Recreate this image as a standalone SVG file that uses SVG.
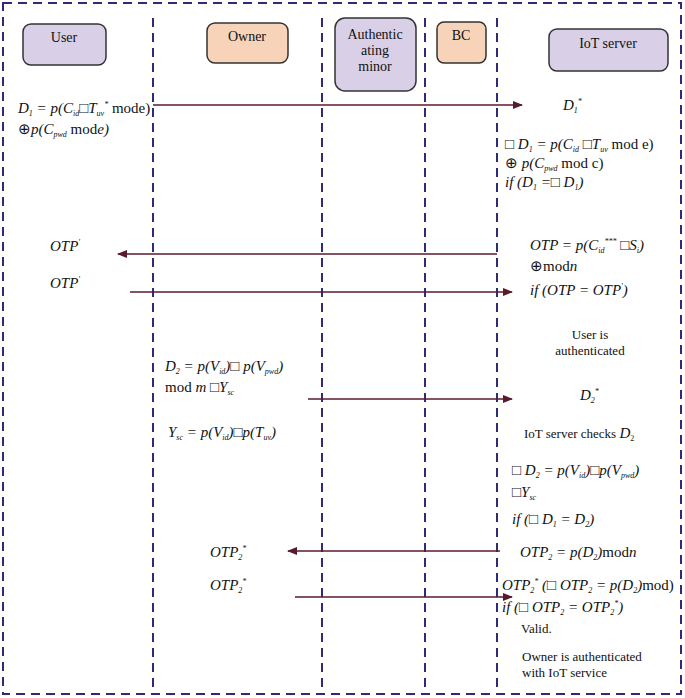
<svg xmlns="http://www.w3.org/2000/svg" width="685" height="698" viewBox="0 0 685 698">
<style>
.lane{stroke:#2e2c78;stroke-width:2;stroke-dasharray:9,6;fill:none}
.box{stroke:#333;stroke-width:1.5}
.p{fill:#d9d0e8}.o{fill:#f6d3b9}
.hd{font-family:"Liberation Serif",serif;font-size:14px;fill:#111;text-anchor:middle}
.m{font-family:"Liberation Serif",serif;font-size:15px;fill:#111;font-style:italic}
.t{font-family:"Liberation Serif",serif;font-size:13px;fill:#111}
.s{font-size:8px}
.a{stroke:#5b1a2c;stroke-width:1.6;fill:none;marker-end:url(#ah)}
</style>
<defs><marker id="ah" markerWidth="10" markerHeight="8" refX="9" refY="4" orient="auto" markerUnits="userSpaceOnUse"><path d="M0,0 L10,4 L0,8 Z" fill="#5b1a2c"/></marker></defs>
<rect width="685" height="698" fill="#fff"/>
<rect x="3" y="3" width="678" height="691" class="lane"/>
<g id="lanes">
<line x1="153" y1="18" x2="153" y2="694" class="lane"/>
<line x1="322" y1="18" x2="322" y2="694" class="lane"/>
<line x1="425" y1="18" x2="425" y2="694" class="lane"/>
<line x1="497" y1="18" x2="497" y2="694" class="lane"/>
</g>
<g id="user"><rect x="23" y="24" width="83" height="41" rx="8" class="box p"/><text x="64" y="42" class="hd">User</text></g>
<g id="owner"><rect x="207" y="23" width="81" height="40" rx="8" class="box o"/><text x="247" y="41" class="hd">Owner</text></g>
<g id="minor"><rect x="335" y="18" width="81" height="73" rx="10" class="box p"/><text x="375" y="39" class="hd">Authentic</text><text x="375" y="55" class="hd">ating</text><text x="375" y="71" class="hd">minor</text></g>
<g id="bc"><rect x="437" y="22" width="49" height="41" rx="7" class="box o"/><text x="461" y="40" class="hd">BC</text></g>
<g id="iot"><rect x="549" y="29" width="119" height="42" rx="8" class="box p"/><text x="608" y="48" class="hd">IoT server</text></g>
<g id="connectors">
<line x1="153" y1="105" x2="522" y2="105" class="a"/>
<line x1="497" y1="254" x2="118" y2="254" class="a"/>
<line x1="130" y1="292" x2="512" y2="292" class="a"/>
<line x1="308" y1="399" x2="512" y2="399" class="a"/>
<line x1="500" y1="551" x2="288" y2="551" class="a"/>
<line x1="295" y1="597" x2="512" y2="597" class="a"/>
</g>
<g id="labels">
<text x="18" y="113" class="m">D<tspan class="s" dy="3">1</tspan><tspan dy="-3"> = p(C</tspan><tspan class="s" dy="3">id</tspan><tspan dy="-3">□T</tspan><tspan class="s" dy="3">uv</tspan><tspan class="s" dy="-9">*</tspan><tspan dy="6" font-style="normal"> mode)</tspan></text>
<text x="18" y="134" class="m"><tspan font-style="normal">⊕</tspan>p(C<tspan class="s" dy="3">pwd</tspan><tspan dy="-3" font-style="normal"> mod</tspan>e)</text>
<text x="563" y="110" class="m">D<tspan class="s" dy="3">1</tspan><tspan class="s" dy="-9">*</tspan></text>
<text x="505" y="149" class="m" font-size="12">□ D<tspan class="s" dy="3">1</tspan><tspan dy="-3"> = p(C</tspan><tspan class="s" dy="3">id</tspan><tspan dy="-3"> □T</tspan><tspan class="s" dy="3">uv</tspan><tspan dy="-3" font-style="normal"> mod e)</tspan></text>
<text x="505" y="168" class="m" font-size="12"><tspan font-style="normal">⊕</tspan> p(C<tspan class="s" dy="3">pwd</tspan><tspan dy="-3" font-style="normal"> mod c)</tspan></text>
<text x="505" y="187" class="m" font-size="12">if (D<tspan class="s" dy="3">1</tspan><tspan dy="-3"> =□ D</tspan><tspan class="s" dy="3">1</tspan><tspan dy="-3">)</tspan></text>
<text x="50" y="251" class="m">OTP<tspan class="s" dy="-6">'</tspan></text>
<text x="50" y="288" class="m">OTP<tspan class="s" dy="-6">'</tspan></text>
<text x="530" y="250" class="m">OTP = p(C<tspan class="s" dy="3">id</tspan><tspan class="s" dy="-9">***</tspan><tspan dy="6"> □S</tspan><tspan class="s" dy="3">i</tspan><tspan dy="-3">)</tspan></text>
<text x="530" y="271" class="m"><tspan font-style="normal">⊕mod</tspan>n</text>
<text x="530" y="295" class="m">if (OTP = OTP<tspan class="s" dy="-6">'</tspan><tspan dy="6">)</tspan></text>
<text x="590" y="339" class="t" text-anchor="middle">User is</text>
<text x="590" y="355" class="t" text-anchor="middle">authenticated</text>
<text x="165" y="371" class="m">D<tspan class="s" dy="3">2</tspan><tspan dy="-3"> = p(V</tspan><tspan class="s" dy="3">id</tspan><tspan dy="-3">)□ p(V</tspan><tspan class="s" dy="3">pwd</tspan><tspan dy="-3">)</tspan></text>
<text x="165" y="392" class="m"><tspan font-style="normal">mod</tspan> m □Y<tspan class="s" dy="3">sc</tspan></text>
<text x="580" y="400" class="m">D<tspan class="s" dy="3">2</tspan><tspan class="s" dy="-9">*</tspan></text>
<text x="168" y="437" class="m">Y<tspan class="s" dy="3">sc</tspan><tspan dy="-3"> = p(V</tspan><tspan class="s" dy="3">id</tspan><tspan dy="-3">)□p(T</tspan><tspan class="s" dy="3">uv</tspan><tspan dy="-3">)</tspan></text>
<text x="524" y="438" class="t">IoT server checks <tspan class="m" font-size="16">D</tspan><tspan class="s" dy="3">2</tspan></text>
<text x="512" y="475" class="m">□ D<tspan class="s" dy="3">2</tspan><tspan dy="-3"> = p(V</tspan><tspan class="s" dy="3">id</tspan><tspan dy="-3">)□p(V</tspan><tspan class="s" dy="3">pwd</tspan><tspan dy="-3">)</tspan></text>
<text x="512" y="497" class="m">□Y<tspan class="s" dy="3">sc</tspan></text>
<text x="512" y="524" class="m">if (□ D<tspan class="s" dy="3">1</tspan><tspan dy="-3"> = D</tspan><tspan class="s" dy="3">2</tspan><tspan dy="-3">)</tspan></text>
<text x="520" y="557" class="m" font-size="16">OTP<tspan class="s" dy="3">2</tspan><tspan dy="-3"> = p(D</tspan><tspan class="s" dy="3">2</tspan><tspan dy="-3">)</tspan><tspan font-style="normal">mod</tspan>n</text>
<text x="210" y="557" class="m">OTP<tspan class="s" dy="3">2</tspan><tspan class="s" dy="-9">*</tspan></text>
<text x="210" y="590" class="m">OTP<tspan class="s" dy="3">2</tspan><tspan class="s" dy="-9">*</tspan></text>
<text x="502" y="590" class="m" font-size="12">OTP<tspan class="s" dy="3">2</tspan><tspan class="s" dy="-9">*</tspan><tspan dy="6"> (□ OTP</tspan><tspan class="s" dy="3">2</tspan><tspan dy="-3"> = p(D</tspan><tspan class="s" dy="3">2</tspan><tspan dy="-3">)</tspan><tspan font-style="normal">mod)</tspan></text>
<text x="502" y="612" class="m" font-size="12">if (□ OTP<tspan class="s" dy="3">2</tspan><tspan dy="-3"> = OTP</tspan><tspan class="s" dy="3">2</tspan><tspan class="s" dy="-9">*</tspan><tspan dy="6">)</tspan></text>
<text x="521" y="633" class="t">Valid.</text>
<text x="522" y="661" class="t">Owner is authenticated</text>
<text x="522" y="677" class="t">with IoT service</text>
</g>
</svg>
